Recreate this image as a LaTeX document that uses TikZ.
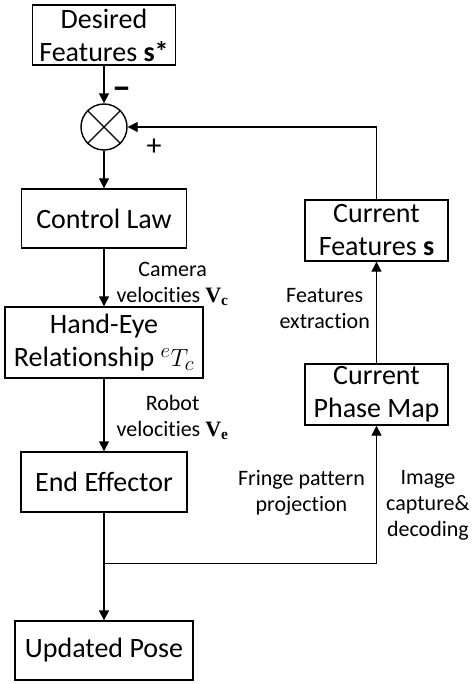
\documentclass[tikz,border=0pt]{standalone}
\usepackage[no-math]{fontspec}
\setmainfont{Carlito}[Ligatures={TeX,NoCommon}]
\newfontfamily\vekfont{Liberation Serif}
\usetikzlibrary{calc,positioning,arrows.meta,shapes}
\newcommand{\vek}[2]{{\vekfont\bfseries #1\textsubscript{#2}}}
\tikzset{
    >={Triangle[length=10pt,width=10pt]},
    punkt/.style={
        rectangle,
        draw=black, line width=1.4pt,
        align=center,
        inner sep=2pt,
        font=\fontsize{28pt}{33pt}\selectfont
    },
    summer/.style={
        circle,
        draw=black, line width=1.4pt,
        minimum size=46pt,
        inner sep=0pt
    },
    line/.style={draw, line width=1.4pt, ->},
    etikett/.style={
        align=center,
        inner sep=2pt,
        font=\fontsize{22pt}{26pt}\selectfont
    },
    tegn/.style={inner sep=0pt, font=\fontsize{28pt}{33pt}\selectfont}
}

\begin{document}
\begin{tikzpicture}[x=1pt,y=1pt]
    \useasboundingbox (0,0) rectangle (474,-684);
    \node[punkt, minimum width=143pt, minimum height=60pt] (desired) at (104,-35) {Desired\\Features \textbf{s*}};
    \node[summer] (sum) at (104,-127) {};
    \node[punkt, minimum width=165pt, minimum height=59pt] (law) at (104,-218.5) {Control Law};
    \node[punkt, minimum width=198pt, minimum height=71pt] (handeye) at (104,-342.5) {Hand-Eye\\Relationship $^{e}T_{c}$};
    \node[punkt, minimum width=166pt, minimum height=60pt] (effector) at (104,-482) {End Effector};
    \node[punkt, minimum width=178pt, minimum height=59pt] (pose) at (104,-650.5) {Updated Pose};
    \node[punkt, minimum width=143pt, minimum height=61pt] (features) at (376.5,-230.5) {Current\\Features \textbf{s}};
    \node[punkt, minimum width=143pt, minimum height=61pt] (phasemap) at (376.5,-394.5) {Current\\Phase Map};

    % -- Summing junction -- %
    \draw[line width=1.4pt] (sum.north west) -- (sum.south east)
                            (sum.north east) -- (sum.south west);
    \node[tegn, font=\fontsize{38pt}{42pt}\selectfont\bfseries,
          text height=12pt, text depth=0pt, anchor=base] (minus) at (121.5,-100) {–};
    \node[tegn, font=\fontsize{30pt}{34pt}\selectfont] (plus) at (154,-147) {+};

    % -- Connectors -- %
    \draw[line] (desired) -- (sum);
    \draw[line] (sum) -- (law);
    \draw[line] (law) -- node[etikett, right=10pt, yshift=-6pt] (camvel)
        {Camera\\velocities \vek{V}{c}} (handeye);
    \draw[line] (handeye) -- node[etikett, right=10pt, yshift=-2pt] (robvel)
        {Robot\\velocities \vek{V}{e}} (effector);
    \draw[line] (effector) -- (pose);
    \coordinate (branch) at ($(effector.south)!0.47!(pose.north)$);
    \coordinate (turn) at (branch -| phasemap.south);
    \draw[line] (branch) -- (turn) --
        node[etikett, left=9pt, yshift=2pt] (fringe) {Fringe pattern\\projection}
        node[etikett, right=7pt, yshift=-11pt] (capture) {Image\\capture\&\\decoding}
        (phasemap);
    \draw[line] (phasemap) -- node[etikett, left=4pt, yshift=4pt] (extract)
        {Features\\extraction} (features);
    \draw[line] (features) |- (sum);
\end{tikzpicture}
\end{document}
